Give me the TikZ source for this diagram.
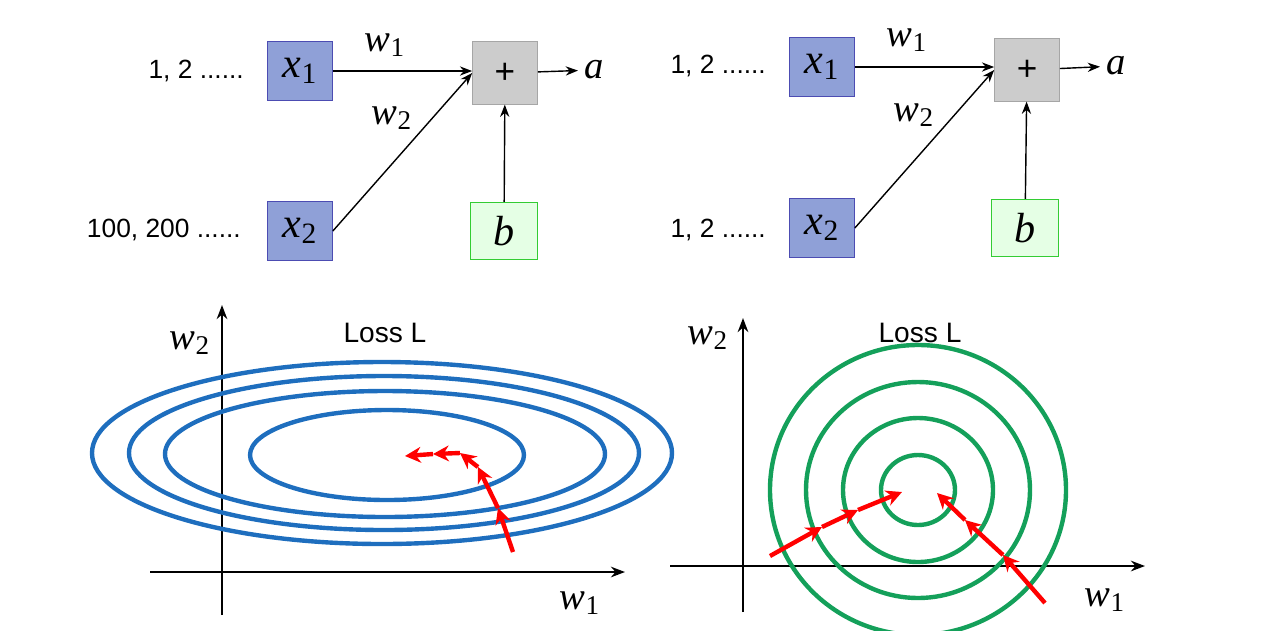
\documentclass[tikz,border=0pt]{standalone}
\usepackage{fontspec}
\setmainfont{Liberation Sans}
\newfontfamily\mySerif{Liberation Serif}
\newcommand{\sbup}[1]{\textsubscript{\upshape #1}}
\usetikzlibrary{arrows.meta,decorations.markings}
\begin{document}
\begin{tikzpicture}[x=0.02cm,y=-0.02cm,
 xb/.style={draw=blue!40!gray,fill={rgb,255:red,143;green,160;blue,215},minimum width=1.3cm,minimum height=1.18cm,inner sep=0pt,font=\mySerif\itshape\fontsize{24}{24}\selectfont},
 pb/.style={draw=gray!70,fill=gray!40,minimum width=1.3cm,minimum height=1.25cm,inner sep=0pt,font=\fontsize{20}{20}\selectfont},
 bb/.style={draw=green!60!gray,fill=green!10,minimum width=1.35cm,minimum height=1.15cm,inner sep=0pt,font=\mySerif\itshape\fontsize{24}{24}\selectfont},
 lab/.style={font=\fontsize{15}{15}\selectfont,anchor=east},
 wl/.style={font=\mySerif\itshape\fontsize{22}{22}\selectfont},
 ar/.style={-{Stealth[length=7pt]},thick},
 ax/.style={-{Stealth[length=8pt]},line width=1.5pt},
 rd/.style={red,line width=2.5pt,-{Stealth[length=9pt,width=9pt]}},
 bl/.style={draw={rgb,255:red,30;green,110;blue,190},line width=2.5pt},
 gr/.style={draw={rgb,255:red,20;green,160;blue,90},line width=2.5pt}]
\useasboundingbox (0,0) rectangle (1268,630);
% left top
\node[xb] (x1) at (300,71) {x\sbup{1}};
\node[xb] (x2) at (300,231) {x\sbup{2}};
\node[pb] (p) at (505,73) {+};
\node[bb] (b) at (504,231) {b};
\node[wl,anchor=west] (a) at (578,70) {a};
\node[lab] (l1) at (250,71) {1, 2 ......};
\node[lab] (l2) at (247,230) {100, 200 ......};
\draw[ar] (x1.east) -- (p.west |- x1.east);
\draw[ar] (x2.east) -- (p.west);
\draw[ar] (b) -- (p);
\draw[ar] (p) -- (a);
\node[wl] (w1) at (385,45) {w\sbup{1}};
\node[wl] (w2) at (392,118) {w\sbup{2}};
% right top
\node[xb] (y1) at (822,67) {x\sbup{1}};
\node[xb] (y2) at (822,228) {x\sbup{2}};
\node[pb] (q) at (1027,70) {+};
\node[bb] (bq) at (1025,228) {b};
\node[wl,anchor=west] (aq) at (1100,66) {a};
\node[lab] (m1) at (772,66) {1, 2 ......};
\node[lab] (m2) at (772,230) {1, 2 ......};
\draw[ar] (y1.east) -- (q.west |- y1.east);
\draw[ar] (y2.east) -- (q.west);
\draw[ar] (bq) -- (q);
\draw[ar] (q) -- (aq);
\node[wl] (v1) at (907,40) {w\sbup{1}};
\node[wl] (v2) at (914,115) {w\sbup{2}};
% left bottom
\coordinate (o1) at (222,615); \coordinate (t1) at (222,305);
\coordinate (h0) at (150,572); \coordinate (h1) at (625,572);
\draw[ax] (o1) -- (t1);
\draw[ax] (h0) -- (h1);
\node[wl] (aw2) at (190,343) {w\sbup{2}};
\node[wl] (aw1) at (580,603) {w\sbup{1}};
\node[font=\fontsize{16}{16}\selectfont] (L1) at (385,333) {Loss L};
\draw[bl] (382,453) ellipse [x radius=290,y radius=91];
\draw[bl] (384,453) ellipse [x radius=255,y radius=77];
\draw[bl] (385,454) ellipse [x radius=220,y radius=63];
\draw[bl] (387,455) ellipse [x radius=137,y radius=45];
\coordinate (r0) at (513,552); \coordinate (r1) at (498,508); \coordinate (r2) at (478,467);
\coordinate (r3) at (460,453); \coordinate (r4) at (433,454); \coordinate (r5) at (405,456);
\draw[rd] (r0) -- (r1); \draw[rd] (r1) -- (r2); \draw[rd] (r2) -- (r3);
\draw[rd] (r3) -- (r4); \draw[rd] (r4) -- (r5);
% right bottom
\coordinate (o2) at (743,612); \coordinate (t2) at (743,318);
\coordinate (g0) at (670,566); \coordinate (g1) at (1145,566);
\draw[ax] (o2) -- (t2);
\draw[ax] (g0) -- (g1);
\node[wl] (bw2) at (708,338) {w\sbup{2}};
\node[wl] (bw1) at (1105,600) {w\sbup{1}};
\node[font=\fontsize{16}{16}\selectfont] (L2) at (920,333) {Loss L};
\draw[gr] (918,490) ellipse [x radius=37,y radius=35];
\draw[gr] (918,490) ellipse [x radius=75,y radius=72];
\draw[gr] (918,490) ellipse [x radius=112,y radius=108];
\draw[gr] (918,490) ellipse [x radius=148,y radius=145];
\coordinate (s0) at (770,556); \coordinate (s1) at (822,527); \coordinate (s2) at (858,510); \coordinate (s3) at (902,492);
\draw[rd] (s0) -- (s1); \draw[rd] (s1) -- (s2); \draw[rd] (s2) -- (s3);
\coordinate (u0) at (1045,603); \coordinate (u1) at (1003,555); \coordinate (u2) at (965,520); \coordinate (u3) at (937,493);
\draw[rd] (u0) -- (u1); \draw[rd] (u1) -- (u2); \draw[rd] (u2) -- (u3);
\end{tikzpicture}
\end{document}
